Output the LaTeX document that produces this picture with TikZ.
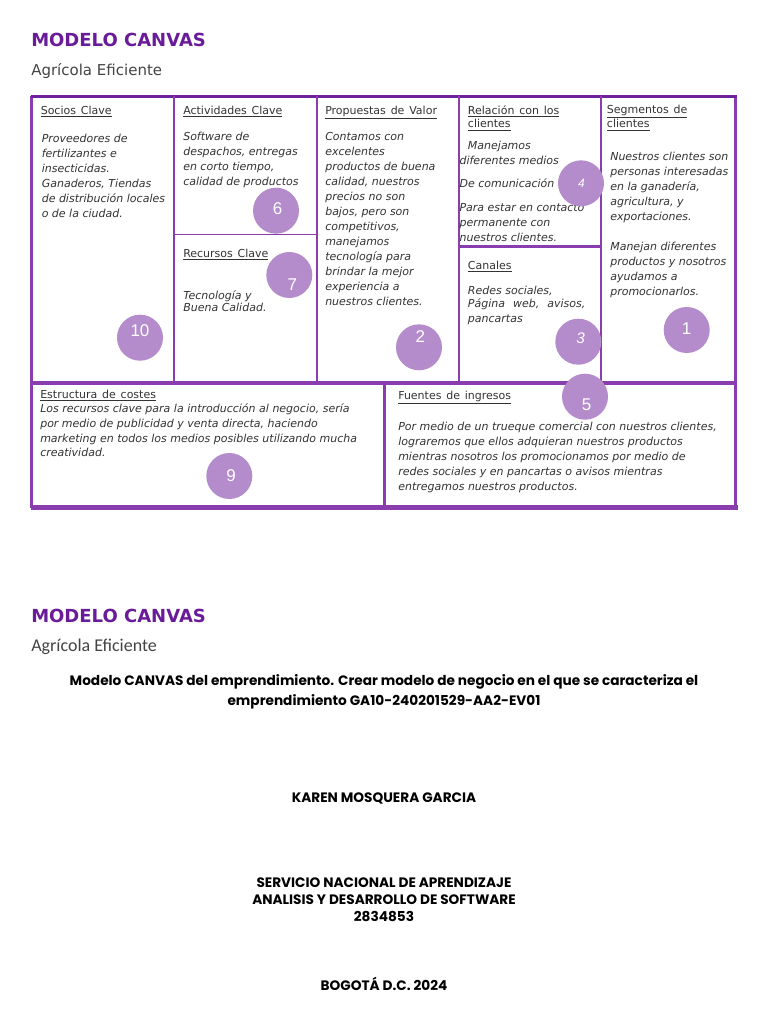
\documentclass[tikz,border=0pt]{standalone}
\usepackage{fontspec}
\setmainfont{DejaVu Sans}
\newfontfamily\numfont{Liberation Sans}
\newfontfamily\gothic{Poppins}
\newfontfamily\carl{Carlito}
\definecolor{titlepurple}{HTML}{6A1B9A}
\definecolor{framepurple}{HTML}{8A3DAF}
\definecolor{topframe}{HTML}{6E2199}
\definecolor{circ}{HTML}{B48CCB}
\definecolor{txt}{HTML}{333333}
\definecolor{subtxt}{HTML}{444444}
\newcommand\fl{\rule{0pt}{8pt}}
\newcommand\widesp{\spaceskip=3.6pt plus 1pt\relax}
\newcommand\hdfont{\fontsize{8.25pt}{10.3pt}\selectfont\widesp}
\newcommand\segfont{\fontsize{8.25pt}{10.8pt}\selectfont\widesp}
\newcommand\bdfont{\fontsize{8.25pt}{11.25pt}\selectfont\itshape}
\tikzset{
  x=0.75pt, y=-0.75pt,
  frameline/.style={draw=framepurple, line width=2pt},
  hd/.style={anchor=north west, inner sep=0pt, font=\hdfont, text=txt, align=left},
  bd/.style={anchor=north west, inner sep=0pt, font=\bdfont, text=txt, align=left},
  numcirc/.style={circle, fill=circ, draw=none, minimum size=34.5pt, inner sep=0pt},
  numtxt/.style={inner sep=0pt, text=white, font=\numfont\fontsize{12.75pt}{14pt}\selectfont},
  bigtitle/.style={anchor=base west, inner sep=0pt, text=titlepurple, font=\fontsize{13.5pt}{16pt}\selectfont\bfseries},
  subtitle/.style={anchor=base west, inner sep=0pt, text=subtxt, font=\fontsize{11.25pt}{13pt}\selectfont},
  cover/.style={anchor=base, inner sep=0pt, text=black, font=\gothic\fontsize{10.25pt}{12pt}\selectfont\bfseries}
}
\begin{document}
\begin{tikzpicture}
\useasboundingbox[fill=white] (0,0) rectangle (768,1024);

% ---------- header 1
\node[bigtitle] (t1) at (31,46.5) {MODELO CANVAS};
\node[subtitle] (s1) at (31,75) {Agrícola Eficiente};

% ---------- canvas frame
\draw[draw=framepurple, line width=2.25pt] (31.8,96.5) -- (31.8,508);
\draw[draw=framepurple, line width=2.25pt] (735.8,96.5) -- (735.8,508);
\draw[draw=topframe, line width=2.25pt] (30.5,96.5) -- (737,96.5);
\draw[draw=framepurple, line width=3.4pt] (30.5,507.5) -- (737.5,507.5);
\draw[draw=framepurple, line width=2.5pt] (31.5,383) -- (736,383);
\draw[frameline, line width=1.9pt] (173.8,96.5) -- (173.8,383);
\draw[frameline, line width=1.9pt] (316.8,96.5) -- (316.8,383);
\draw[frameline, line width=1.9pt] (458.8,96.5) -- (458.8,383);
\draw[frameline, line width=1.9pt] (601,96.5) -- (601,383);
\draw[frameline, line width=0.9pt] (175,234.3) -- (316.7,234.3);
\draw[frameline, line width=2pt] (458.8,246.3) -- (601,246.3);
\draw[frameline, line width=1.9pt] (384.7,383) -- (384.7,507.5);

% ---------- texts
\node[hd] (hsocios) at (40.5,103.3) {\fl\underline{Socios Clave}};
\node[bd] (bsocios) at (41.5,131.6) {\fl Proveedores de\\fertilizantes e\\insecticidas.\\Ganaderos, Tiendas\\de distribución locales\\o de la ciudad.};

\node[hd] (hact) at (183,103.3) {\fl\underline{Actividades Clave}};
\node[bd] (bact) at (183,130) {\fl Software de\\despachos, entregas\\en corto tiempo,\\calidad de productos};

\node[hd] (hrec) at (183,246.6) {\fl\underline{Recursos Clave}};
\node[bd, font=\fontsize{8.25pt}{9.5pt}\selectfont\itshape] (brec) at (183,288.3) {\fl Tecnología y\\Buena Calidad.};

\node[hd] (hprop) at (325,103.3) {\fl\underline{Propuestas de Valor}};
\node[bd] (bprop) at (325,130) {\fl Contamos con\\excelentes\\productos de buena\\calidad, nuestros\\precios no son\\bajos, pero son\\competitivos,\\manejamos\\tecnología para\\brindar la mejor\\experiencia a\\nuestros clientes.};

\node[hd] (hrel) at (467.7,103.3) {\fl\underline{Relación con los}\\\underline{clientes}};
\node[bd] (brel) at (459.3,138.3) {\fl\hspace*{6.3pt}Manejamos\\diferentes medios\\[6.5pt]De comunicación\\[6.5pt]Para estar en contacto\\permanente con\\nuestros clientes.};

\node[hd] (hcan) at (467.7,258.3) {\fl\underline{Canales}};
\node[bd, font=\fontsize{8.25pt}{9.75pt}\selectfont\itshape] (bcan) at (467.7,283.3) {\fl Redes sociales,\\Página\hspace{6pt}web,\hspace{6pt}avisos,\\[1.7pt]pancartas};

\node[hd, font=\segfont] (hseg) at (606.7,102.6) {\fl\underline{Segmentos de}\\\underline{clientes}};
\node[bd] (bseg) at (610,149.3) {\fl Nuestros clientes son\\personas interesadas\\en la ganadería,\\agricultura, y\\exportaciones.\\\mbox{}\\Manejan diferentes\\productos y nosotros\\ayudamos a\\promocionarlos.};

\node[hd] (hcost) at (40,387.6) {\fl\underline{Estructura de costes}};
\node[bd, font=\fontsize{8.25pt}{11.1pt}\selectfont\itshape] (bcost) at (40,401.6) {\fl Los recursos clave para la introducción al negocio, sería\\por medio de publicidad y venta directa, haciendo\\marketing en todos los medios posibles utilizando mucha\\creatividad.};

\node[hd] (hing) at (398,388.6) {\fl\underline{Fuentes de ingresos}};
\node[bd] (bing) at (398,419.3) {\fl Por medio de un trueque comercial con nuestros clientes,\\lograremos que ellos adquieran nuestros productos\\mientras nosotros los promocionamos por medio de\\redes sociales y en pancartas o avisos mientras\\entregamos nuestros productos.};

% ---------- number circles
\node[numcirc] (c10) at (140,337.7) {};
\node[numtxt] (n10) at (140,331) {10};
\node[numcirc] (c6) at (276,210.7) {};
\node[numtxt] (n6) at (277.7,209) {6};
\node[numcirc] (c7) at (289.3,275) {};
\node[numtxt] (n7) at (292.3,285) {7};
\node[numcirc] (c2) at (419,347.3) {};
\node[numtxt] (n2) at (420.3,336.7) {2};
\node[numcirc] (c4) at (581,183.3) {};
\node[numtxt, font=\numfont\fontsize{9pt}{10pt}\selectfont\itshape] (n4) at (581.5,183.3) {4};
\node[numcirc] (c3) at (578.3,341.7) {};
\node[numtxt, font=\numfont\fontsize{11.5pt}{13pt}\selectfont\itshape] (n3) at (580.7,338.3) {3};
\node[numcirc] (c5) at (585,396.7) {};
\node[numtxt] (n5) at (586.7,405) {5};
\node[numcirc] (c1) at (686.7,330) {};
\node[numtxt] (n1) at (686.7,328.3) {1};
\node[numcirc] (c9) at (229.3,476) {};
\node[numtxt] (n9) at (231,476) {9};

% ---------- page 2 header
\node[bigtitle] (t2) at (31,622.5) {MODELO CANVAS};
\node[subtitle, font=\carl\fontsize{13.5pt}{15pt}\selectfont] (s2) at (31,651) {Agrícola Eficiente};

% ---------- cover text
\node[cover] (l1) at (384,685) {Modelo CANVAS del emprendimiento. Crear modelo de negocio en el que se caracteriza el};
\node[cover] (l2) at (384,705) {emprendimiento GA10-240201529-AA2-EV01};
\node[cover] (l3) at (384,802) {KAREN MOSQUERA GARCIA};
\node[cover] (l4) at (384,887) {SERVICIO NACIONAL DE APRENDIZAJE};
\node[cover] (l5) at (384,904) {ANALISIS Y DESARROLLO DE SOFTWARE};
\node[cover] (l6) at (384,921) {2834853};
\node[cover] (l7) at (384,990) {BOGOTÁ D.C. 2024};
\end{tikzpicture}
\end{document}
